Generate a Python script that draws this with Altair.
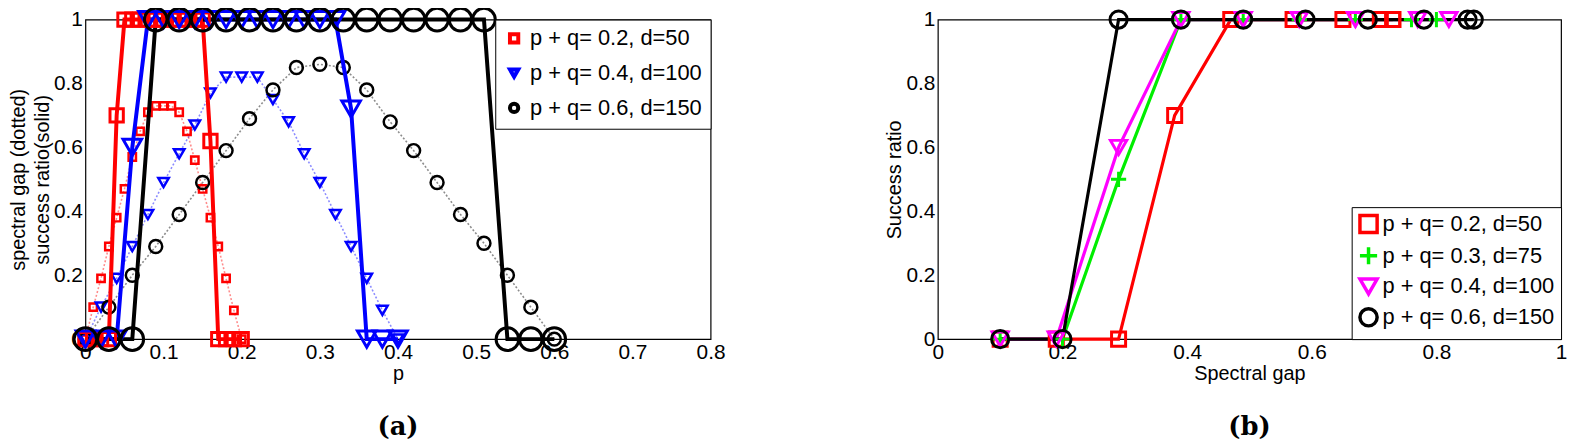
import altair as alt
import pandas as pd

# ---------------- Panel (a) data ----------------
series_a = ["p + q= 0.2, d=50", "p + q= 0.4, d=100", "p + q= 0.6, d=150"]

p_red = [0, 0.01, 0.02, 0.03, 0.04, 0.05, 0.06, 0.07, 0.08, 0.09, 0.10,
         0.11, 0.12, 0.13, 0.14, 0.15, 0.16, 0.17, 0.18, 0.19, 0.20]
gap_red = [0, 0.1, 0.19, 0.29, 0.38, 0.47, 0.57, 0.65, 0.71, 0.73, 0.73,
           0.73, 0.71, 0.65, 0.56, 0.47, 0.38, 0.29, 0.19, 0.09, 0]
succ_red = [0, 0, 0, 0, 0.7, 1, 1, 1, 1, 1, 1,
            1, 1, 1, 1, 1, 0.62, 0, 0, 0, 0]

p_blue = [0, 0.02, 0.04, 0.06, 0.08, 0.10, 0.12, 0.14, 0.16, 0.18, 0.20,
          0.22, 0.24, 0.26, 0.28, 0.30, 0.32, 0.34, 0.36, 0.38, 0.40]
gap_blue = [0, 0.1, 0.19, 0.29, 0.39, 0.49, 0.58, 0.67, 0.77, 0.82, 0.82,
            0.82, 0.75, 0.68, 0.58, 0.49, 0.39, 0.29, 0.19, 0.09, 0]
succ_blue = [0, 0, 0, 0.6, 1, 1, 1, 1, 1, 1, 1,
             1, 1, 1, 1, 1, 1, 0.72, 0, 0, 0]

p_black = [0, 0.03, 0.06, 0.09, 0.12, 0.15, 0.18, 0.21, 0.24, 0.27, 0.30,
           0.33, 0.36, 0.39, 0.42, 0.45, 0.48, 0.51, 0.54, 0.57, 0.60]
gap_black = [0, 0.1, 0.2, 0.29, 0.39, 0.49, 0.59, 0.69, 0.78, 0.85, 0.86,
             0.85, 0.78, 0.68, 0.59, 0.49, 0.39, 0.3, 0.2, 0.1, 0]
succ_black = [0, 0, 0, 1, 1, 1, 1, 1, 1, 1, 1,
              1, 1, 1, 1, 1, 1, 1, 0, 0, 0]

# ---------------- Panel (b) data ----------------
series_b = ["p + q= 0.2, d=50", "p + q= 0.3, d=75", "p + q= 0.4, d=100", "p + q= 0.6, d=150"]

gapb_red = [0.1, 0.19, 0.29, 0.38, 0.47, 0.57, 0.65, 0.71, 0.73, 0.73]
sucb_red = [0, 0, 0, 0.7, 1, 1, 1, 1, 1, 1]
gapb_green = [0.1, 0.2, 0.29, 0.39, 0.49, 0.58, 0.67, 0.76, 0.8]
sucb_green = [0, 0, 0.5, 1, 1, 1, 1, 1, 1]
gapb_mag = [0.1, 0.19, 0.29, 0.39, 0.49, 0.58, 0.67, 0.77, 0.82]
sucb_mag = [0, 0, 0.6, 1, 1, 1, 1, 1, 1]
gapb_black = [0.1, 0.2, 0.29, 0.39, 0.49, 0.59, 0.69, 0.78, 0.85, 0.86]
sucb_black = [0, 0, 1, 1, 1, 1, 1, 1, 1, 1]

x_ticks_a = [0, 0.1, 0.2, 0.3, 0.4, 0.5, 0.6, 0.7, 0.8]
x_ticks_b = [0, 0.2, 0.4, 0.6, 0.8, 1]
y_ticks = [0, 0.2, 0.4, 0.6, 0.8, 1]


def long_df(xs_list, ys_list, names):
    rows = []
    for xs, ys, n in zip(xs_list, ys_list, names):
        for x, y in zip(xs, ys):
            rows.append({"x": x, "y": y, "series": n})
    return pd.DataFrame(rows)


FONT = "Liberation Sans"
AX = dict(labelOverlap=False, labelFlush=False, labelBound=False, format="~g")
H = 322

dot_df = long_df([p_red, p_blue, p_black], [gap_red, gap_blue, gap_black], series_a)
sol_df = long_df([p_red, p_blue, p_black], [succ_red, succ_blue, succ_black], series_a)
b_df = long_df([gapb_red, gapb_green, gapb_mag, gapb_black],
               [sucb_red, sucb_green, sucb_mag, sucb_black], series_b)

col_a = ["#ff0000", "#0000ff", "#000000"]
shp_a = ["square", "triangle-down", "circle"]
col_b = ["#ff0000", "#00ee00", "#ff00ff", "#000000"]
shp_b = ["square", "M-1,0L1,0M0,-1L0,1", "triangle-down", "circle"]

xA = alt.X("x:Q", scale=alt.Scale(domain=[0, 0.8], nice=False, zero=False),
           axis=alt.Axis(values=x_ticks_a, title="p", **AX))
yA = alt.Y("y:Q", scale=alt.Scale(domain=[0, 1], nice=False),
           axis=alt.Axis(values=y_ticks, title=["spectral gap (dotted)", "success ratio(solid)"], **AX))

leg_a = alt.Legend(title=None, orient="top-right", offset=0, padding=8, rowPadding=10,
                   symbolSize=70, symbolStrokeWidth=4, labelFont=FONT, labelFontSize=22,
                   labelOffset=5, strokeColor="black", fillColor="white", labelLimit=400)

# line colours: data-driven (sorted) domain so these scales stay legend-free
stroke_a = alt.Stroke("series:N", scale=alt.Scale(range=col_a), legend=None)
color_a = alt.Color("series:N", scale=alt.Scale(domain=series_a, range=col_a), legend=leg_a)
shape_a = alt.Shape("series:N", scale=alt.Scale(domain=series_a, range=shp_a), legend=leg_a)

dot_lines = alt.Chart(dot_df).mark_line(strokeDash=[2, 2], strokeWidth=1.6, opacity=0.45).encode(
    x=xA, y=yA, stroke=stroke_a, detail="series:N")
dot_pts = alt.Chart(dot_df).mark_point(filled=False, strokeWidth=2.5, opacity=1).encode(
    x=xA, y=yA, color=color_a, shape=shape_a,
    size=alt.Size("series:N", scale=alt.Scale(range=[55, 170, 110]), legend=None))
sol_lines = alt.Chart(sol_df).mark_line(strokeWidth=4).encode(
    x=xA, y=yA, stroke=stroke_a, detail="series:N")
sol_pts = alt.Chart(sol_df).mark_point(filled=False, strokeWidth=3, opacity=1).encode(
    x=xA, y=yA, color=color_a, shape=shape_a,
    size=alt.Size("series:N", scale=alt.Scale(range=[180, 520, 340]), legend=None))

left = alt.layer(dot_lines, dot_pts, sol_lines, sol_pts).resolve_scale(size="independent").properties(
    width=630, height=H,
    title=alt.TitleParams("(a)", orient="bottom", anchor="middle", font="DejaVu Serif",
                          fontWeight="bold", fontSize=26, offset=31, color="black"))

xB = alt.X("x:Q", scale=alt.Scale(domain=[0, 1], nice=False),
           axis=alt.Axis(values=x_ticks_b, title="Spectral gap", **AX))
yB = alt.Y("y:Q", scale=alt.Scale(domain=[0, 1], nice=False),
           axis=alt.Axis(values=y_ticks, title="Success ratio", **AX))

leg_b = alt.Legend(title=None, orient="bottom-right", offset=0, padding=6, rowPadding=0,
                   symbolSize=300, symbolStrokeWidth=3.5, labelFont=FONT, labelFontSize=22,
                   labelOffset=3, strokeColor="black", fillColor="white", labelLimit=400)
stroke_b = alt.Stroke("series:N", scale=alt.Scale(range=col_b), legend=None)
color_b = alt.Color("series:N", scale=alt.Scale(domain=series_b, range=col_b), legend=leg_b)
shape_b = alt.Shape("series:N", scale=alt.Scale(domain=series_b, range=shp_b), legend=leg_b)

b_lines = alt.Chart(b_df).mark_line(strokeWidth=3.2).encode(
    x=xB, y=yB, stroke=stroke_b, detail="series:N")
b_pts = alt.Chart(b_df).mark_point(filled=False, strokeWidth=3, opacity=1).encode(
    x=xB, y=yB, color=color_b, shape=shape_b,
    size=alt.Size("series:N", scale=alt.Scale(range=[200, 300, 520, 340]), legend=None))

right = alt.layer(b_lines, b_pts).properties(
    width=628, height=H,
    title=alt.TitleParams("(b)", orient="bottom", anchor="middle", font="DejaVu Serif",
                          fontWeight="bold", fontSize=26, offset=31, color="black"))

chart = alt.hconcat(left, right, spacing=159).resolve_scale(
    color="independent", shape="independent", stroke="independent", size="independent"
).resolve_legend(color="independent", shape="independent").properties(
    padding={"left": 0, "top": -9, "right": 0, "bottom": 0}
).configure_view(stroke="black", strokeWidth=1.2).configure_axis(
    grid=False, domain=False, ticks=False, labelFont=FONT, labelFontSize=21, labelColor="black",
    labelPadding=3, titleFont=FONT, titleFontSize=20,
    titleFontWeight="normal", titleColor="black", titlePadding=1, titleLineHeight=24
)

chart.save("out.html", embed_options={"renderer": "svg", "actions": False})
